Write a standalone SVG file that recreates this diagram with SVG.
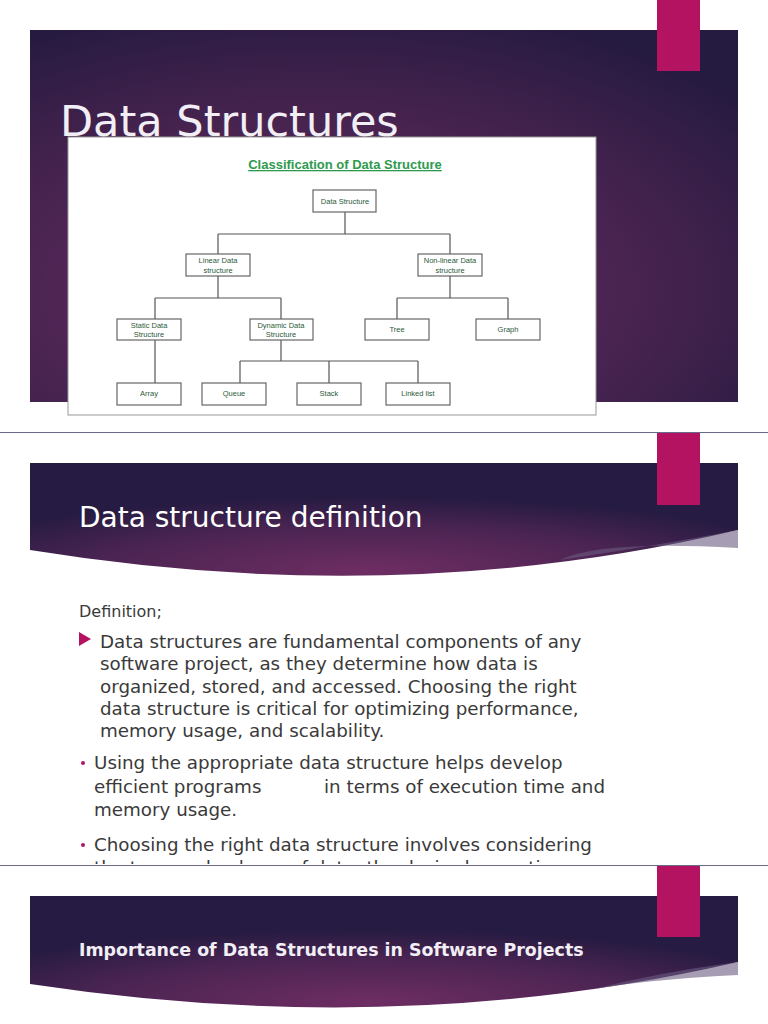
<svg xmlns="http://www.w3.org/2000/svg" width="768" height="1024" viewBox="0 0 768 1024">
<defs>
<radialGradient id="g1" cx="0.4" cy="0.7" r="0.8">
<stop offset="0" stop-color="#6a2c64"/><stop offset="0.6" stop-color="#46234f"/><stop offset="1" stop-color="#251a40"/>
</radialGradient>
<radialGradient id="g2" cx="0.48" cy="0.95" r="0.65">
<stop offset="0" stop-color="#6e2d63"/><stop offset="0.6" stop-color="#4a2452"/><stop offset="1" stop-color="#261b42"/>
</radialGradient>
<clipPath id="c2"><rect x="0" y="433" width="768" height="431"/></clipPath>
</defs>
<style>
.tab{fill:#b31360}
.n rect{fill:#fff;stroke:#666;stroke-width:1.2}
.n text{font-family:"Liberation Sans",Arial,sans-serif;font-size:7.5px;fill:#2a5a3a;text-anchor:middle}
.conn path{fill:none;stroke:#555;stroke-width:1.2}
.body{font-family:"DejaVu Sans",sans-serif;font-size:18.3px;fill:#3a3a3a}
</style>
<rect width="768" height="1024" fill="#fff"/>
<!-- slide 1 -->
<rect x="30" y="30" width="708" height="372" fill="url(#g1)"/>
<rect class="tab" x="657" y="0" width="43" height="71"/>
<text x="60" y="136" font-family="DejaVu Sans,sans-serif" font-size="43" fill="#f2eef5">Data Structures</text>
<rect x="68" y="137" width="528" height="278" fill="#fff" stroke="#999"/>
<text x="345" y="169" font-family="Liberation Sans,Arial,sans-serif" font-size="13" font-weight="bold" fill="#2e9a4e" text-anchor="middle" text-decoration="underline">Classification of Data Structure</text>
<g class="conn">
<path d="M345 212V234M218 234H450M218 234V254M450 234V254"/>
<path d="M218 276V298M155 298H281M155 298V319M281 298V319"/>
<path d="M450 276V298M397 298H508M397 298V319M508 298V319"/>
<path d="M155 340V383"/>
<path d="M281 340V361M240 361H418M240 361V383M329 361V383M418 361V383"/>
</g>
<g id="n-ds" class="n"><rect x="313" y="190" width="63" height="22"/><text x="345" y="204">Data Structure</text></g>
<g id="n-lin" class="n"><rect x="186" y="254" width="64" height="22"/><text x="218" y="263">Linear Data</text><text x="218" y="273">structure</text></g>
<g id="n-nonlin" class="n"><rect x="418" y="254" width="64" height="22"/><text x="450" y="263">Non-linear Data</text><text x="450" y="273">structure</text></g>
<g id="n-static" class="n"><rect x="117" y="319" width="64" height="21"/><text x="149" y="328">Static Data</text><text x="149" y="337">Structure</text></g>
<g id="n-dyn" class="n"><rect x="250" y="319" width="63" height="21"/><text x="281" y="328">Dynamic Data</text><text x="281" y="337">Structure</text></g>
<g id="n-tree" class="n"><rect x="365" y="319" width="64" height="21"/><text x="397" y="332">Tree</text></g>
<g id="n-graph" class="n"><rect x="476" y="319" width="64" height="21"/><text x="508" y="332">Graph</text></g>
<g id="n-array" class="n"><rect x="117" y="383" width="64" height="22"/><text x="149" y="396">Array</text></g>
<g id="n-queue" class="n"><rect x="202" y="383" width="64" height="22"/><text x="234" y="396">Queue</text></g>
<g id="n-stack" class="n"><rect x="297" y="383" width="64" height="22"/><text x="329" y="396">Stack</text></g>
<g id="n-ll" class="n"><rect x="386" y="383" width="64" height="22"/><text x="418" y="396">Linked list</text></g>
<line x1="0" y1="432.5" x2="768" y2="432.5" stroke="#6a6a8a"/>
<!-- slide 2 -->
<g clip-path="url(#c2)">
<path d="M30 463H738V530Q400 610 30 550Z" fill="url(#g2)"/>
<path d="M738 530V548Q600 540 560 560Q660 545 738 530Z" fill="#6a5a80" opacity="0.6"/>
<rect class="tab" x="657" y="432" width="43" height="73"/>
<text x="79" y="527" font-family="DejaVu Sans,sans-serif" font-size="28" fill="#fff">Data structure definition</text>
<text x="79" y="617" class="body" style="font-size:16px">Definition;</text>
<path d="M79 632L91 639L79 646Z" fill="#b31360"/>
<text class="body"><tspan x="100" y="648">Data structures are fundamental components of any</tspan><tspan x="100" y="670">software project, as they determine how data is</tspan><tspan x="100" y="693">organized, stored, and accessed. Choosing the right</tspan><tspan x="100" y="715">data structure is critical for optimizing performance,</tspan><tspan x="100" y="737">memory usage, and scalability.</tspan></text>
<circle cx="83" cy="763" r="2" fill="#b31360"/>
<text class="body"><tspan x="94" y="769">Using the appropriate data structure helps develop</tspan><tspan x="94" y="793">efficient programs</tspan><tspan x="324" y="793">in terms of execution time and</tspan><tspan x="94" y="816">memory usage.</tspan></text>
<circle cx="83" cy="845" r="2" fill="#b31360"/>
<text class="body"><tspan x="94" y="851">Choosing the right data structure involves considering</tspan><tspan x="94" y="874">the type and volume of data, the desired operations</tspan></text>
</g>
<line x1="0" y1="865.5" x2="768" y2="865.5" stroke="#6a6a8a"/>
<!-- slide 3 -->
<path d="M30 896H738V962Q400 1040 30 984Z" fill="url(#g2)"/>
<path d="M738 962V975Q640 980 590 990Q660 972 738 962Z" fill="#6a5a80" opacity="0.6"/>
<rect class="tab" x="657" y="866" width="43" height="71"/>
<text x="79" y="956" font-family="DejaVu Sans,sans-serif" font-size="17.4" font-weight="bold" fill="#f2eef5">Importance of Data Structures in Software Projects</text>
</svg>
